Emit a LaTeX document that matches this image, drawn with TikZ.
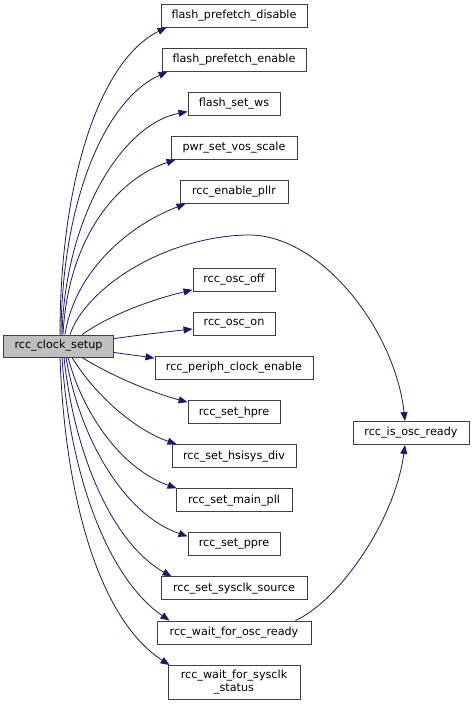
\documentclass[tikz,border=0pt]{standalone}
\usepackage{fontspec}
\setmainfont{DejaVu Sans}
\usetikzlibrary{arrows.meta}
\definecolor{edgeblue}{HTML}{191970}
\definecolor{srcfill}{HTML}{BFBFBF}
\definecolor{boxline}{HTML}{404040}
\tikzset{
  fbox/.style={draw=boxline, line width=0.9pt, fill=white, inner sep=0pt,
    minimum height=23pt, align=center, font=\fontsize{11.2}{13}\selectfont},
  srcbox/.style={fbox, fill=srcfill},
  edge/.style={draw=edgeblue, line width=0.8pt, -{Triangle[length=9pt,width=7pt]}}
}
\begin{document}
\begin{tikzpicture}[x=1pt,y=-1pt]
\useasboundingbox (0,0) rectangle (474,707);
\fill[white] (0,0) rectangle (474,707);

\node[srcbox, minimum width=110pt, minimum height=22pt] (src) at (58.5,346) {rcc\_clock\_setup};

\node[fbox, minimum width=146pt] (fpd) at (234,15.5) {flash\_prefetch\_disable};
\node[fbox, minimum width=144pt] (fpe) at (234,59.6) {flash\_prefetch\_enable};
\node[fbox, minimum width=92pt] (fsw) at (234,103.6) {flash\_set\_ws};
\node[fbox, minimum width=126pt] (pvs) at (234,147.7) {pwr\_set\_vos\_scale};
\node[fbox, minimum width=108pt] (rep) at (234,191.8) {rcc\_enable\_pllr};
\node[fbox, minimum width=82pt] (roff) at (234,279.9) {rcc\_osc\_off};
\node[fbox, minimum width=82pt] (ron) at (234,324) {rcc\_osc\_on};
\node[fbox, minimum width=158pt] (rpce) at (234,368) {rcc\_periph\_clock\_enable};
\node[fbox, minimum width=92pt] (rsh) at (234,412.1) {rcc\_set\_hpre};
\node[fbox, minimum width=124pt] (rshd) at (234,456.1) {rcc\_set\_hsisys\_div};
\node[fbox, minimum width=116pt] (rsmp) at (234,500.2) {rcc\_set\_main\_pll};
\node[fbox, minimum width=92pt] (rsp) at (234,544.3) {rcc\_set\_ppre};
\node[fbox, minimum width=146pt] (rsss) at (234,588.4) {rcc\_set\_sysclk\_source};
\node[fbox, minimum width=154pt] (rwfor) at (234,632.5) {rcc\_wait\_for\_osc\_ready};
\node[fbox, minimum width=132pt, minimum height=34pt] (rwfss) at (234,682.5) {rcc\_wait\_for\_sysclk\\\_status};
\node[fbox, minimum width=116pt] (rios) at (411,433) {rcc\_is\_osc\_ready};

% edges from rcc_clock_setup (top side)
\draw[edge] ([xshift=1.5pt]src.north) .. controls (60,180) and (100,60) .. ([xshift=6pt]fpd.south west);
\draw[edge] ([xshift=2.5pt]src.north) .. controls (62,200) and (105,100) .. ([xshift=6pt]fpe.south west);
\draw[edge] ([xshift=3.5pt]src.north) .. controls (65,220) and (120,125) .. ([yshift=4pt]fsw.south west);
\draw[edge] ([xshift=4.5pt]src.north) .. controls (68,240) and (115,180) .. ([xshift=5pt]pvs.south west);
\draw[edge] ([xshift=6.5pt]src.north) .. controls (75,270) and (130,225) .. ([xshift=6pt]rep.south west);
\draw[edge] ([xshift=11.5pt]src.north) .. controls (85,290) and (160,238) .. (245,235)
   .. controls (320,232) and (395,330) .. ([xshift=-6pt]rios.north);
\draw[edge] ([xshift=23.5pt]src.north) .. controls (110,315) and (150,300) .. ([yshift=2pt]roff.south west);
\draw[edge] ([yshift=-4pt]src.north east) .. controls (140,335) and (165,332) .. ([yshift=-5pt]ron.west);
% right / bottom side
\draw[edge] ([yshift=5pt]src.south east) .. controls (125,354) and (140,356) .. ([yshift=-2pt]rpce.north west);
\draw[edge] ([xshift=23.5pt]src.south) .. controls (110,375) and (150,392) .. ([yshift=-2pt]rsh.north west);
\draw[edge] ([xshift=13.5pt]src.south) .. controls (95,395) and (135,430) .. ([xshift=5pt]rshd.north west);
\draw[edge] ([xshift=9.5pt]src.south) .. controls (85,420) and (125,470) .. ([xshift=1pt]rsmp.north west);
\draw[edge] ([xshift=7.5pt]src.south) .. controls (80,440) and (125,515) .. ([yshift=-4pt]rsp.north west);
\draw[edge] ([xshift=5.5pt]src.south) .. controls (75,460) and (115,545) .. ([xshift=11pt]rsss.north west);
\draw[edge] ([xshift=3.5pt]src.south) .. controls (70,480) and (110,580) .. ([xshift=13pt]rwfor.north west);
\draw[edge] ([xshift=1.5pt]src.south) .. controls (65,500) and (100,620) .. ([xshift=2pt]rwfss.north west);
% rcc_wait_for_osc_ready -> rcc_is_osc_ready
\draw[edge] ([xshift=-16pt]rwfor.north east) .. controls (340,600) and (395,520) .. ([xshift=-6pt]rios.south);
\end{tikzpicture}
\end{document}
